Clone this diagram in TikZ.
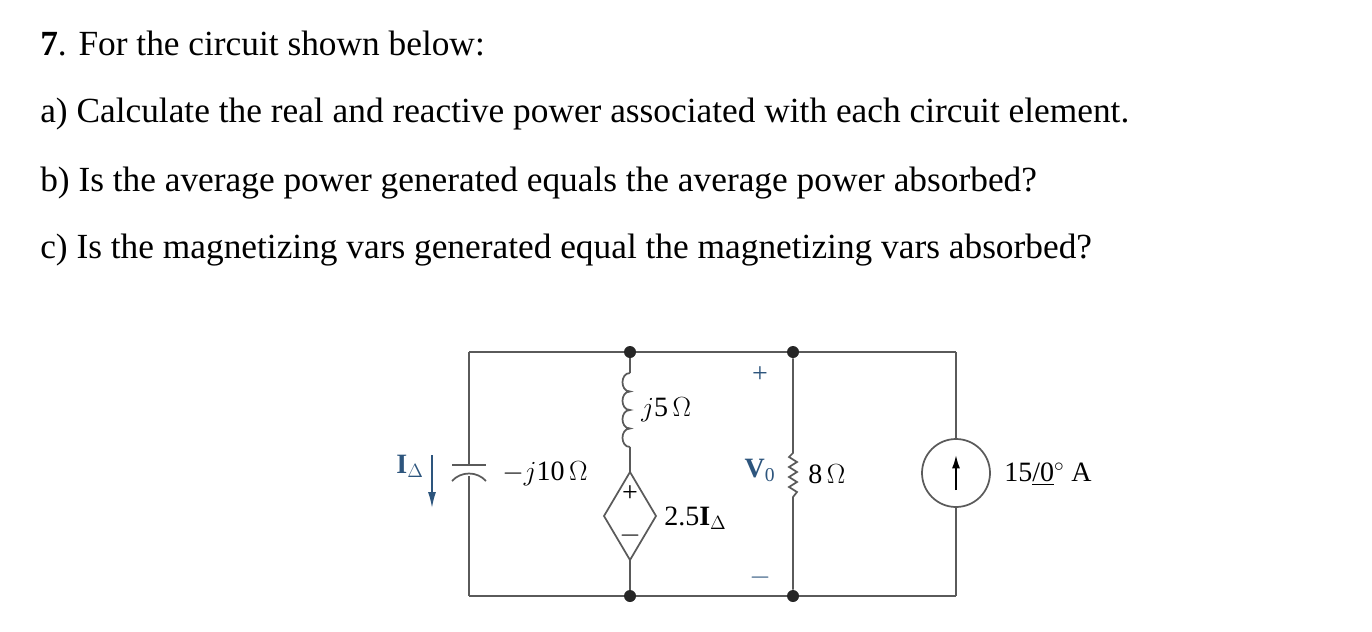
\documentclass[tikz,border=0pt]{standalone}
\usepackage{fontspec}
\setmainfont{Liberation Serif}
\usetikzlibrary{arrows.meta}
\definecolor{lblue}{RGB}{45,85,125}
\definecolor{wire}{RGB}{90,90,90}
\begin{document}
\begin{tikzpicture}[x=0.75pt,y=-0.75pt,
  q/.style={anchor=base west,inner sep=0,font=\fontsize{26.5}{30}\selectfont},
  w/.style={draw=wire,line width=1.3pt},
  dot/.style={circle,fill=black!85,inner sep=0,minimum size=9pt},
  lab/.style={inner sep=0,font=\fontsize{21}{24}\selectfont}]
\useasboundingbox (0,0) rectangle (1372,632);
\node[q] (t0) at (40,55) {\textbf{7}. For the circuit shown below:};
\node[q] (ta) at (40,122) {a) Calculate the real and reactive power associated with each circuit element.};
\node[q] (tb) at (40,191) {b) Is the average power generated equals the average power absorbed?};
\node[q] (tc) at (40,258) {c) Is the magnetizing vars generated equal the magnetizing vars absorbed?};
% nodes
\coordinate (TL) at (469,352); \coordinate (BL) at (469,596);
\node[dot] (T1) at (630,352) {}; \node[dot] (B1) at (630,596) {};
\node[dot] (T2) at (793,352) {}; \node[dot] (B2) at (793,596) {};
\coordinate (TR) at (956,352); \coordinate (BR) at (956,596);
\draw[w] (TL) -- (T1) -- (T2) -- (TR);
\draw[w] (BL) -- (B1) -- (B2) -- (BR);
% capacitor
\coordinate (c1) at (469,465); \coordinate (c2) at (469,476);
\draw[w] (TL) -- (c1); \draw[w] (c2) -- (BL);
\draw[w] (452,465) -- (486,465);
\draw[w] (452,481) .. controls (461,471) and (477,471) .. (486,481);
\draw[lblue,line width=1.2pt,-{Latex[length=12pt,width=6pt]}] (432,455) -- (432,508);
\node[lab,text=lblue] (IA) at (410,466) {\textbf{I}\textsubscript{$\Delta$}};
\node[lab,anchor=west] (cl) at (502,474) {$-j$10\,$\Omega$};
% inductor
\coordinate (l1) at (630,373); \coordinate (l2) at (630,447);
\draw[w] (T1) -- (l1);
\draw[w] (l1) .. controls (620,373) and (620,391.5) .. (630,391.5)
  .. controls (620,391.5) and (620,410) .. (630,410)
  .. controls (620,410) and (620,428.5) .. (630,428.5)
  .. controls (620,428.5) and (620,447) .. (l2);
\node[lab,anchor=west] (ll) at (641,410) {$j$5\,$\Omega$};
% diamond
\coordinate (d1) at (630,472); \coordinate (d2) at (630,560);
\draw[w] (l2) -- (d1);
\draw[w] (d1) -- (656,516) -- (d2) -- (604,516) -- cycle;
\draw[w] (d2) -- (B1);
\node[lab] (dp) at (630,494) {+};
\node[lab] (dm) at (630,536) {$-$};
\node[lab,anchor=west] (dl) at (664,518) {2.5\textbf{I}\textsubscript{$\Delta$}};
% resistor
\draw[w] (T2) -- (793,453) -- (789,457) -- (797,462) -- (789,467) -- (797,472) -- (789,477) -- (797,482) -- (789,487) -- (797,492) -- (793,497) -- (B2);
\node[lab,anchor=west] (rl) at (808,474) {8\,$\Omega$};
\node[lab,text=lblue] (V0) at (760,470) {\textbf{V}\textsubscript{0}};
\node[lab,text=lblue] (vp) at (760,375) {+};
\node[lab,text=lblue] (vm) at (760,578) {$-$};
% current source
\node[draw=wire,line width=1.3pt,circle,minimum size=51pt,inner sep=0] (cs) at (956,473) {};
\draw[w] (TR) -- (cs.north); \draw[w] (cs.south) -- (BR);
\draw[line width=1.3pt,-{Latex[length=10pt,width=6pt]}] (956,490) -- (956,455);
\node[lab,anchor=west] (sl) at (1004,474) {15\underline{/0}$^\circ$ A};
\end{tikzpicture}
\end{document}
